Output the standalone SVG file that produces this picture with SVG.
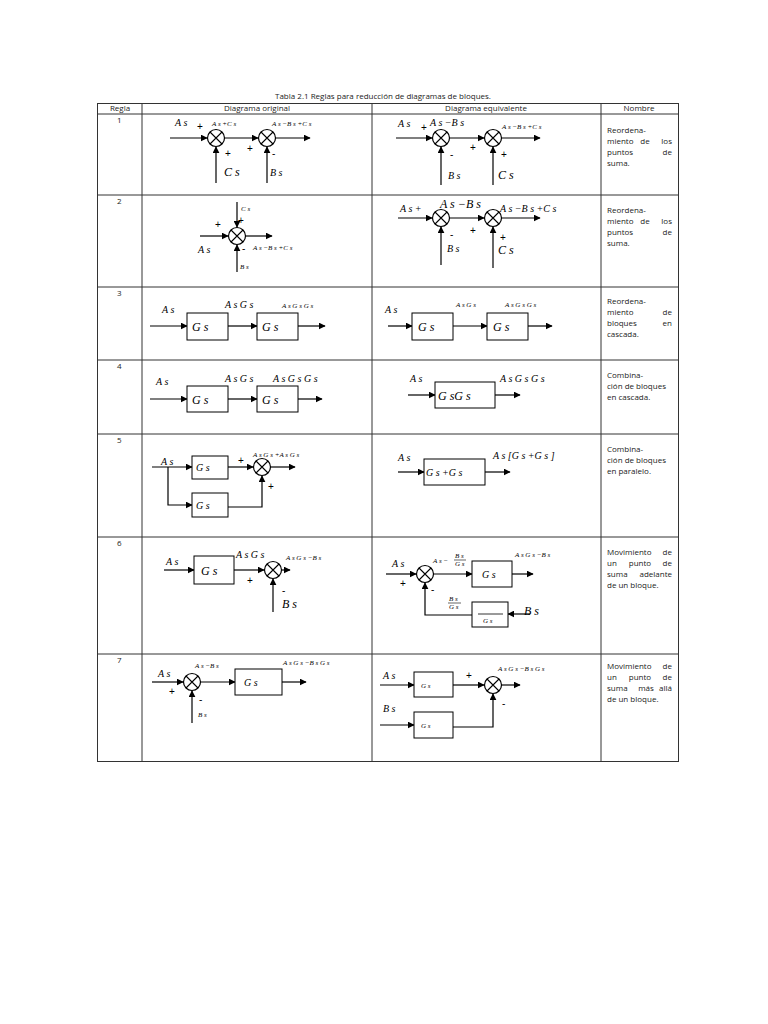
<svg xmlns="http://www.w3.org/2000/svg" width="768" height="1024" viewBox="0 0 768 1024">
<style>
.t{font-family:"Open Sans","DejaVu Sans",sans-serif;font-size:8px;fill:#222}
.h{font-family:"Open Sans","DejaVu Sans",sans-serif;font-size:8px;fill:#222;text-anchor:middle}
.e{text-anchor:end}.c{text-anchor:middle}
.m{font-family:"Liberation Serif",serif;font-style:italic;font-size:10px;fill:#000}
.s{font-family:"Liberation Serif",serif;font-style:italic;font-size:7px;fill:#000}
.b{font-family:"Liberation Serif",serif;font-style:italic;font-size:12px;fill:#000}
.p{font-family:"Liberation Sans",sans-serif;font-size:10px;fill:#000}
.g line,.g path,.g polyline{stroke:#000;stroke-width:1.2;fill:none}
.box{fill:#fff;stroke:#000;stroke-width:1}
.grid line{stroke:#333;stroke-width:1}
</style>
<defs>
<marker id="a" viewBox="0 0 10 10" refX="9" refY="5" markerWidth="7" markerHeight="7" orient="auto" markerUnits="userSpaceOnUse"><path d="M0,0L10,5L0,10z" fill="#000"/></marker>
<g id="sj"><circle r="8.5" fill="#fff" stroke="#000" stroke-width="1.2"/><path d="M-6,-6L6,6M-6,6L6,-6" stroke="#000" stroke-width="1.1"/></g>
</defs>
<rect width="768" height="1024" fill="#fff"/>
<text x="383" y="99" class="t" text-anchor="middle" font-size="9.5">Tabla 2.1 Reglas para reducción de diagramas de bloques.</text>
<g class="grid">
<rect x="97.5" y="103.5" width="581" height="658" fill="none" stroke="#333"/>
<line x1="142" y1="103" x2="142" y2="762"/><line x1="372" y1="103" x2="372" y2="762"/><line x1="601" y1="103" x2="601" y2="762"/>
<line x1="97" y1="114" x2="678" y2="114"/><line x1="97" y1="195" x2="678" y2="195"/><line x1="97" y1="287" x2="678" y2="287"/><line x1="97" y1="360" x2="678" y2="360"/><line x1="97" y1="434" x2="678" y2="434"/><line x1="97" y1="537" x2="678" y2="537"/><line x1="97" y1="654" x2="678" y2="654"/>
</g>
<g id="header"><text x="120" y="111" class="h">Regla</text><text x="257" y="111" class="h">Diagrama original</text><text x="486" y="111" class="h">Diagrama equivalente</text><text x="639" y="111" class="h">Nombre</text></g>
<g id="nums" class="t"><text x="117" y="123">1</text><text x="117" y="204">2</text><text x="117" y="296">3</text><text x="117" y="369">4</text><text x="117" y="443">5</text><text x="117" y="546">6</text><text x="117" y="663">7</text></g>
<g id="names" class="t" font-size="7.5">
<text x="607" y="133">Reordena-</text><text x="607" y="144">miento</text><text x="645" y="144" class="c">de</text><text x="672" y="144" class="e">los</text><text x="607" y="155">puntos</text><text x="672" y="155" class="e">de</text><text x="607" y="166">suma.</text>
<text x="607" y="213">Reordena-</text><text x="607" y="224">miento</text><text x="645" y="224" class="c">de</text><text x="672" y="224" class="e">los</text><text x="607" y="235">puntos</text><text x="672" y="235" class="e">de</text><text x="607" y="246">suma.</text>
<text x="607" y="304">Reordena-</text><text x="607" y="315">miento</text><text x="672" y="315" class="e">de</text><text x="607" y="326">bloques</text><text x="672" y="326" class="e">en</text><text x="607" y="337">cascada.</text>
<text x="607" y="378">Combina-</text><text x="607" y="389">ción de bloques</text><text x="607" y="400">en cascada.</text>
<text x="607" y="452">Combina-</text><text x="607" y="463">ción de bloques</text><text x="607" y="474">en paralelo.</text>
<text x="607" y="555">Movimiento</text><text x="672" y="555" class="e">de</text><text x="607" y="566">un</text><text x="640" y="566" class="c">punto</text><text x="672" y="566" class="e">de</text><text x="607" y="577">suma</text><text x="672" y="577" class="e">adelante</text><text x="607" y="588">de un bloque.</text>
<text x="607" y="669">Movimiento</text><text x="672" y="669" class="e">de</text><text x="607" y="680">un</text><text x="640" y="680" class="c">punto</text><text x="672" y="680" class="e">de</text><text x="607" y="691">suma</text><text x="646" y="691" class="c">más</text><text x="672" y="691" class="e">allá</text><text x="607" y="702">de un bloque.</text>
</g>
<g id="connectors" class="g">
<line x1="170" y1="138" x2="207" y2="138" marker-end="url(#a)"/><line x1="225" y1="138" x2="258" y2="138" marker-end="url(#a)"/><line x1="276" y1="138" x2="310" y2="138" marker-end="url(#a)"/>
<line x1="216" y1="183" x2="216" y2="147" marker-end="url(#a)"/><line x1="267" y1="183" x2="267" y2="147" marker-end="url(#a)"/>
<line x1="396" y1="138" x2="432" y2="138" marker-end="url(#a)"/><line x1="450" y1="138" x2="484" y2="138" marker-end="url(#a)"/><line x1="502" y1="138" x2="540" y2="138" marker-end="url(#a)"/>
<line x1="441" y1="185" x2="441" y2="147" marker-end="url(#a)"/><line x1="493" y1="185" x2="493" y2="147" marker-end="url(#a)"/>
<line x1="200" y1="236" x2="228" y2="236" marker-end="url(#a)"/><line x1="246" y1="236" x2="272" y2="236" marker-end="url(#a)"/><line x1="237" y1="202" x2="237" y2="227" marker-end="url(#a)"/><line x1="237" y1="272" x2="237" y2="245" marker-end="url(#a)"/>
<line x1="398" y1="218" x2="432" y2="218" marker-end="url(#a)"/><line x1="450" y1="218" x2="484" y2="218" marker-end="url(#a)"/><line x1="502" y1="218" x2="540" y2="218" marker-end="url(#a)"/>
<line x1="441" y1="265" x2="441" y2="227" marker-end="url(#a)"/><line x1="493" y1="268" x2="493" y2="227" marker-end="url(#a)"/>
<line x1="150" y1="326" x2="187" y2="326" marker-end="url(#a)"/><line x1="228" y1="326" x2="257" y2="326" marker-end="url(#a)"/><line x1="298" y1="326" x2="325" y2="326" marker-end="url(#a)"/>
<line x1="388" y1="326" x2="412" y2="326" marker-end="url(#a)"/><line x1="453" y1="326" x2="487" y2="326" marker-end="url(#a)"/><line x1="528" y1="326" x2="552" y2="326" marker-end="url(#a)"/>
<line x1="150" y1="399" x2="187" y2="399" marker-end="url(#a)"/><line x1="228" y1="399" x2="257" y2="399" marker-end="url(#a)"/><line x1="298" y1="399" x2="322" y2="399" marker-end="url(#a)"/>
<line x1="408" y1="395" x2="435" y2="395" marker-end="url(#a)"/><line x1="495" y1="395" x2="520" y2="395" marker-end="url(#a)"/>
<line x1="152" y1="467" x2="192" y2="467" marker-end="url(#a)"/><line x1="228" y1="467" x2="253" y2="467" marker-end="url(#a)"/><line x1="271" y1="467" x2="295" y2="467" marker-end="url(#a)"/>
<polyline points="168,467 168,505 192,505" marker-end="url(#a)"/><polyline points="228,507 262,507 262,476" marker-end="url(#a)"/>
<line x1="398" y1="472" x2="424" y2="472" marker-end="url(#a)"/><line x1="485" y1="472" x2="510" y2="472" marker-end="url(#a)"/>
<line x1="164" y1="570" x2="194" y2="570" marker-end="url(#a)"/><line x1="234" y1="570" x2="264" y2="570" marker-end="url(#a)"/><line x1="282" y1="570" x2="290" y2="570" marker-end="url(#a)"/>
<line x1="273" y1="612" x2="273" y2="579" marker-end="url(#a)"/>
<line x1="386" y1="574" x2="416" y2="574" marker-end="url(#a)"/><line x1="434" y1="574" x2="472" y2="574" marker-end="url(#a)"/><line x1="512" y1="574" x2="533" y2="574" marker-end="url(#a)"/>
<line x1="530" y1="614" x2="508" y2="614" marker-end="url(#a)"/><polyline points="472,615 425,615 425,583" marker-end="url(#a)"/>
<line x1="152" y1="682" x2="183" y2="682" marker-end="url(#a)"/><line x1="201" y1="682" x2="235" y2="682" marker-end="url(#a)"/><line x1="282" y1="682" x2="306" y2="682" marker-end="url(#a)"/>
<line x1="192" y1="723" x2="192" y2="691" marker-end="url(#a)"/>
<line x1="380" y1="685" x2="414" y2="685" marker-end="url(#a)"/><line x1="453" y1="685" x2="484" y2="685" marker-end="url(#a)"/><line x1="502" y1="685" x2="520" y2="685" marker-end="url(#a)"/>
<line x1="380" y1="725" x2="414" y2="725" marker-end="url(#a)"/><polyline points="453,727 493,727 493,694" marker-end="url(#a)"/>
</g>
<g id="sums">
<use href="#sj" x="216" y="138"/><use href="#sj" x="267" y="138"/><use href="#sj" x="441" y="138"/><use href="#sj" x="493" y="138"/>
<use href="#sj" x="237" y="236"/><use href="#sj" x="441" y="218"/><use href="#sj" x="493" y="218"/>
<use href="#sj" x="262" y="467"/><use href="#sj" x="273" y="570"/><use href="#sj" x="425" y="574"/>
<use href="#sj" x="192" y="682"/><use href="#sj" x="493" y="685"/>
</g>
<g id="blocks">
<rect class="box" x="187" y="313" width="41" height="27"/><text class="b" x="192" y="331">G s</text>
<rect class="box" x="257" y="313" width="41" height="27"/><text class="b" x="262" y="331">G s</text>
<rect class="box" x="412" y="313" width="41" height="27"/><text class="b" x="418" y="331">G s</text>
<rect class="box" x="487" y="313" width="41" height="27"/><text class="b" x="493" y="331">G s</text>
<rect class="box" x="187" y="386" width="41" height="26"/><text class="b" x="192" y="404">G s</text>
<rect class="box" x="257" y="386" width="41" height="26"/><text class="b" x="262" y="404">G s</text>
<rect class="box" x="435" y="382" width="60" height="26"/><text class="b" x="438" y="400">G sG s</text>
<rect class="box" x="192" y="456" width="36" height="23"/><text class="m" x="196" y="471">G  s</text>
<rect class="box" x="192" y="493" width="36" height="24"/><text class="m" x="196" y="509">G  s</text>
<rect class="box" x="424" y="459" width="61" height="26"/><text class="m" x="426" y="476">G s +G s</text>
<rect class="box" x="194" y="556" width="40" height="28"/><text class="b" x="201" y="575">G s</text>
<rect class="box" x="472" y="561" width="40" height="26"/><text class="m" x="482" y="578">G s</text>
<rect class="box" x="472" y="602" width="36" height="25"/><line x1="478" y1="614" x2="503" y2="614" stroke="#000" stroke-width="0.8"/><text class="s" x="483" y="623">G s</text>
<rect class="box" x="235" y="669" width="47" height="26"/><text class="m" x="244" y="686">G s</text>
<rect class="box" x="414" y="672" width="39" height="25"/><text class="s" x="421" y="688">G s</text>
<rect class="box" x="414" y="712" width="39" height="26"/><text class="s" x="421" y="728">G s</text>
</g>
<g id="labels">
<text class="m" x="175" y="126">A s</text><text class="p" x="197" y="130">+</text><text class="s" x="212" y="126">A s +C s</text><text class="s" x="272" y="126">A s −B s +C s</text>
<text class="p" x="225" y="157">+</text><text class="b" x="224" y="176">C s</text><text class="p" x="247" y="152">+</text><text class="p" x="272" y="157">-</text><text class="m" x="270" y="176">B s</text>
<text class="m" x="398" y="127">A s</text><text class="p" x="421" y="131">+</text><text class="m" x="430" y="126">A s −B s</text><text class="s" x="502" y="129">A s −B s +C s</text>
<text class="p" x="450" y="158">-</text><text class="p" x="470" y="151">+</text><text class="p" x="501" y="158">+</text><text class="m" x="448" y="179">B s</text><text class="b" x="498" y="179">C s</text>
<text class="s" x="241" y="211">C s</text><text class="p" x="215" y="228">+</text><text class="p" x="238" y="224">+</text><text class="m" x="198" y="253">A s</text><text class="p" x="242" y="252">-</text><text class="s" x="253" y="250">A s −B s +C s</text><text class="s" x="240" y="269">B s</text>
<text class="m" x="400" y="212">A s +</text><text class="b" x="440" y="208">A s −B s</text><text class="m" x="500" y="212">A s −B s +C s</text>
<text class="p" x="450" y="238">-</text><text class="p" x="470" y="234">+</text><text class="p" x="500" y="241">+</text><text class="m" x="447" y="252">B s</text><text class="b" x="498" y="254">C s</text>
<text class="m" x="162" y="313">A s</text><text class="m" x="225" y="308">A s G s</text><text class="s" x="282" y="308">A s G s G s</text>
<text class="m" x="385" y="313">A s</text><text class="s" x="456" y="307">A s G s</text><text class="s" x="505" y="307">A s G s G s</text>
<text class="m" x="156" y="385">A s</text><text class="m" x="225" y="382">A s G s</text><text class="m" x="273" y="382">A s G s G s</text>
<text class="m" x="410" y="382">A s</text><text class="m" x="500" y="382">A s G s G s</text>
<text class="m" x="161" y="465">A s</text><text class="p" x="238" y="464">+</text><text class="s" x="253" y="457">A s G s +A s G s</text><text class="p" x="268" y="490">+</text>
<text class="m" x="398" y="461">A s</text><text class="m" x="493" y="459">A s [G s +G s ]</text>
<text class="m" x="166" y="565">A s</text><text class="m" x="236" y="558">A s G s</text><text class="s" x="286" y="560">A s G s −B s</text><text class="p" x="247" y="584">+</text><text class="p" x="282" y="594">-</text><text class="b" x="282" y="608">B s</text>
<text class="m" x="392" y="567">A s</text><text class="p" x="400" y="587">+</text><text class="p" x="431" y="593">-</text>
<text class="s" x="433" y="563" font-size="6">A s −</text><text class="s" x="455" y="558" font-size="5.5">B s</text><line x1="454" y1="560" x2="466" y2="560" stroke="#000" stroke-width="0.6"/><text class="s" x="455" y="566" font-size="5.5">G s</text>
<text class="s" x="515" y="557">A s G s −B s</text>
<text class="s" x="449" y="601" font-size="5.5">B s</text><line x1="448" y1="603" x2="461" y2="603" stroke="#000" stroke-width="0.6"/><text class="s" x="449" y="609" font-size="5.5">G s</text>
<text class="b" x="524" y="615">B s</text>
<text class="m" x="158" y="677">A s</text><text class="s" x="195" y="668">A s −B s</text><text class="s" x="283" y="665" font-size="5.5">A s G s −B s G s</text><text class="p" x="169" y="695">+</text><text class="p" x="199" y="703">-</text><text class="s" x="198" y="717">B s</text>
<text class="m" x="383" y="679">A s</text><text class="m" x="383" y="712">B s</text><text class="p" x="466" y="679">+</text><text class="s" x="498" y="671">A s G s −B s G s</text><text class="p" x="502" y="707">-</text>
</g>
</svg>
